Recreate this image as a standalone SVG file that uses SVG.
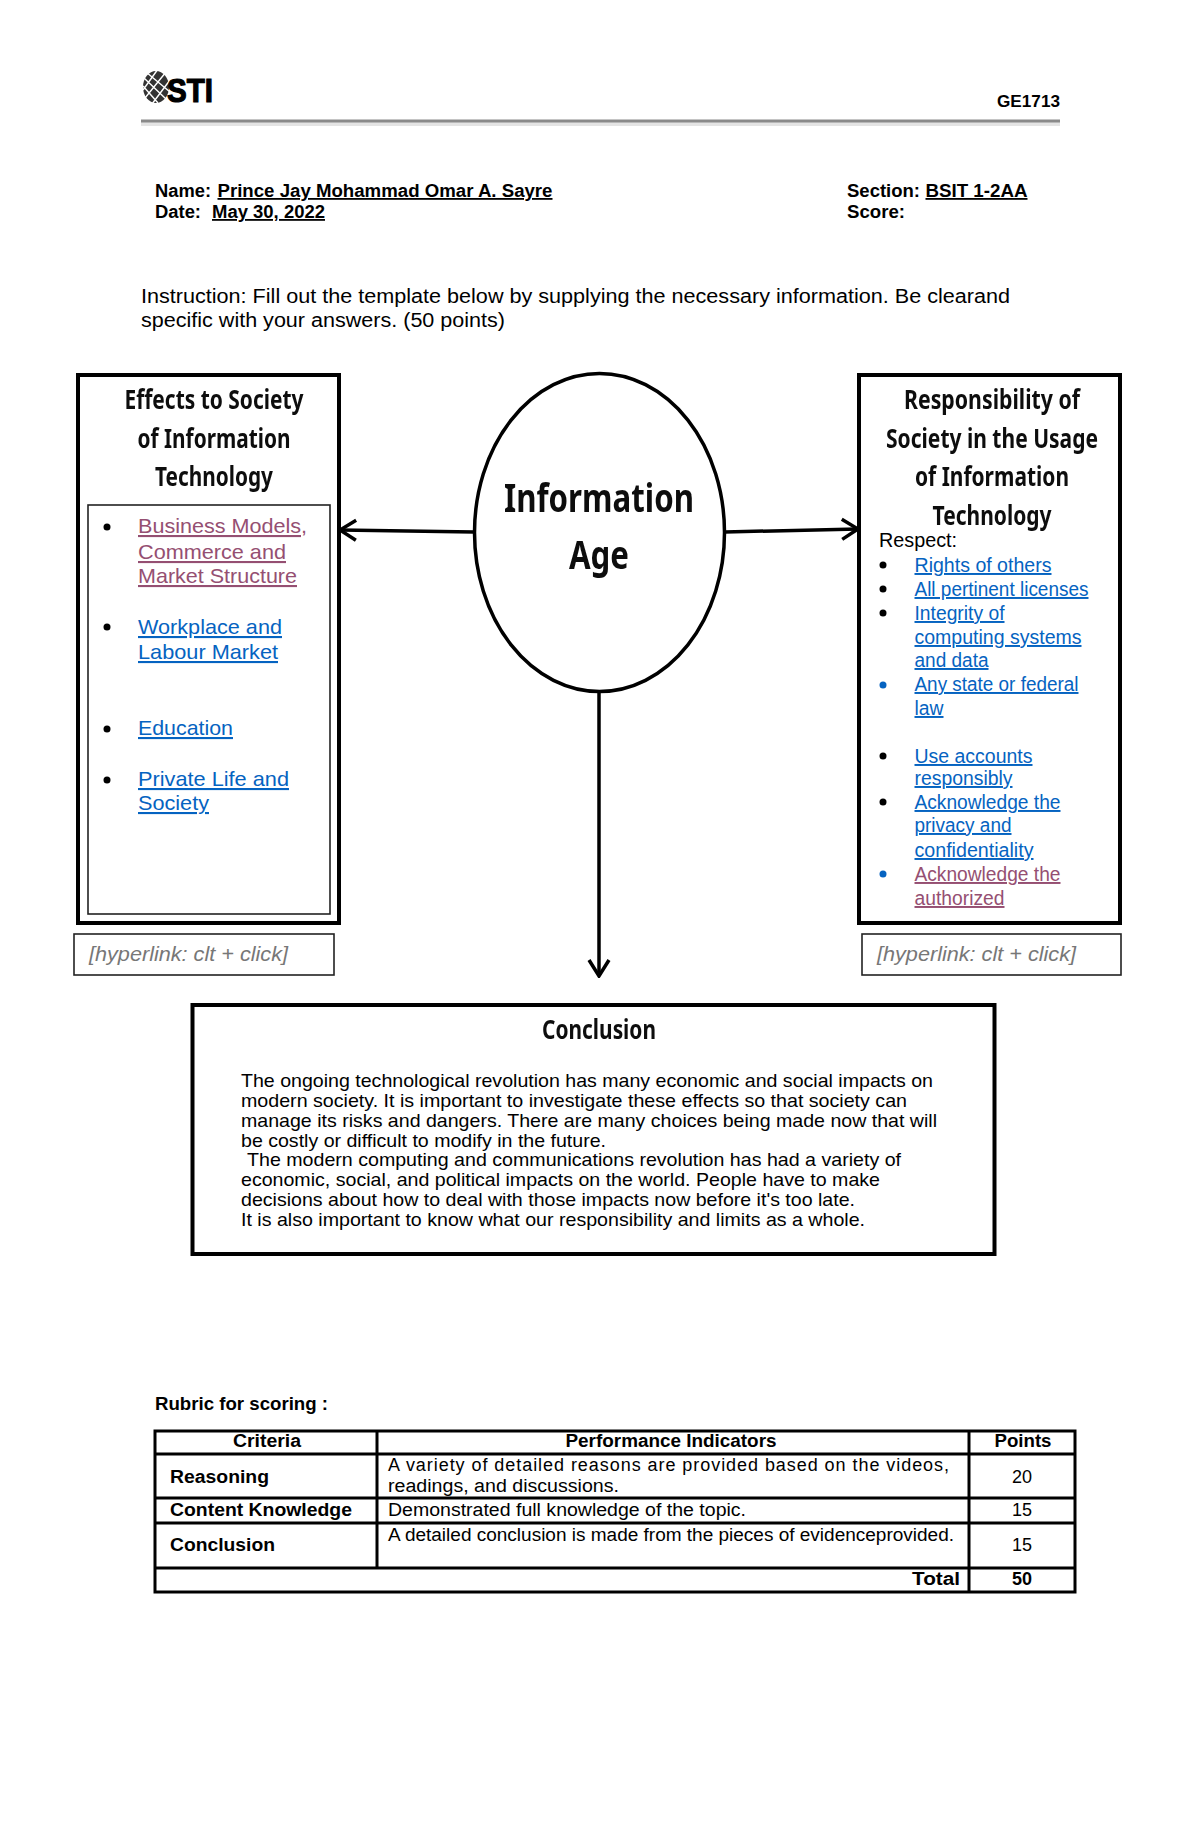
<svg xmlns="http://www.w3.org/2000/svg" width="1200" height="1835" viewBox="0 0 1200 1835">
<style>
text{font-family:"Liberation Sans",Arial,sans-serif;fill:#000}
.b{font-weight:700}
.t{font-size:20px}
.l{font-size:21px;fill:#0563c1;text-decoration:underline}
.r{font-size:19.5px;fill:#0563c1;text-decoration:underline}
.v{fill:#954f72}
.c{font-size:18.5px}
.h{font-family:"Noto Sans",sans-serif;font-weight:700;font-size:26px;text-anchor:middle;fill:#111;filter:url(#soft)}
.k{font-size:18px}
.m{text-anchor:middle}
.i{font-size:20px;font-style:italic;fill:#777}
.box{fill:#fff;stroke:#000;stroke-width:4}
.thin{fill:#fff;stroke:#222;stroke-width:1.6}
.link{fill:none;stroke:#000;stroke-width:3.5}
.tb{stroke:#000;stroke-width:3;fill:none}
.dk{fill:#000}.bl{fill:#0563c1}
</style>
<defs>
<filter id="soft" x="-10%" y="-20%" width="120%" height="140%"><feGaussianBlur stdDeviation="0.45"/></filter>
<marker id="open" viewBox="0 0 20 24" refX="18" refY="12" markerWidth="20" markerHeight="24" markerUnits="userSpaceOnUse" orient="auto"><path d="M2 2 L18 12 L2 22" fill="none" stroke="#000" stroke-width="3.5"/></marker>
</defs>
<rect width="1200" height="1835" fill="#fff"/>

<g id="header">
<g id="logo" fill="none" stroke="#222" stroke-width="2.4">
<ellipse cx="156" cy="87" rx="13" ry="16" fill="#333" stroke="none"/>
<path stroke="#fff" stroke-width="1.4" d="M144 78 L166 99 M146 72 L170 92 M143 86 L158 103 M166 72 L145 98 M170 80 L152 104 M158 69 L143 90"/>
<text x="167" y="102" class="b" font-size="33" textLength="46" lengthAdjust="spacingAndGlyphs" stroke="#000" stroke-width="1.2" fill="#000">STI</text>
</g>
<text x="997" y="107" class="b" font-size="16.5" textLength="63" lengthAdjust="spacingAndGlyphs">GE1713</text>
<rect x="141" y="122" width="919" height="4" fill="#e4e4e4"/>
<line x1="141" y1="121" x2="1060" y2="121" stroke="#8a8a8a" stroke-width="3"/>
<text x="155" y="197" class="b k" textLength="56" lengthAdjust="spacingAndGlyphs">Name:</text>
<text x="217.500" y="197" class="b k" text-decoration="underline" textLength="335" lengthAdjust="spacingAndGlyphs">Prince Jay Mohammad Omar A. Sayre</text>
<text x="155" y="218" class="b k" textLength="46" lengthAdjust="spacingAndGlyphs">Date:</text>
<text x="212" y="218" class="b k" text-decoration="underline" textLength="113" lengthAdjust="spacingAndGlyphs">May 30, 2022</text>
<text x="847" y="197" class="b k" textLength="73" lengthAdjust="spacingAndGlyphs">Section:</text>
<text x="925.500" y="197" class="b k" text-decoration="underline" textLength="102" lengthAdjust="spacingAndGlyphs">BSIT 1-2AA</text>
<text x="847" y="218" class="b k" textLength="58" lengthAdjust="spacingAndGlyphs">Score:</text>
<text x="141" y="303" class="t" textLength="869" lengthAdjust="spacingAndGlyphs">Instruction: Fill out the template below by supplying the necessary information. Be clearand</text>
<text x="141" y="327" class="t" textLength="364" lengthAdjust="spacingAndGlyphs">specific with your answers. (50 points)</text>
</g>

<g id="connectors">
<line class="link" x1="474" y1="532" x2="340" y2="530" marker-end="url(#open)"/>
<line class="link" x1="725" y1="532" x2="858" y2="529" marker-end="url(#open)"/>
<line class="link" x1="599" y1="692" x2="599" y2="976" marker-end="url(#open)"/>
</g>

<g id="node-info-age">
<ellipse cx="599.5" cy="532.500" rx="125" ry="159" fill="#fff" stroke="#000" stroke-width="3.5"/>
<text x="599" y="512" class="h" style="font-size:39px" textLength="190" lengthAdjust="spacingAndGlyphs">Information</text>
<text x="599" y="569" class="h" style="font-size:39px" textLength="60" lengthAdjust="spacingAndGlyphs">Age</text>
</g>

<g id="node-effects">
<rect class="box" x="78" y="375" width="261" height="548"/>
<text x="214" y="409" class="h" textLength="179" lengthAdjust="spacingAndGlyphs">Effects to Society</text>
<text x="214" y="448" class="h" textLength="153" lengthAdjust="spacingAndGlyphs">of Information</text>
<text x="214" y="486" class="h" textLength="118" lengthAdjust="spacingAndGlyphs">Technology</text>
<rect class="thin" x="88" y="505" width="242" height="409"/>
<circle class="dk" cx="107" cy="527" r="3.5"/><circle class="dk" cx="107" cy="627" r="3.5"/><circle class="dk" cx="107" cy="729" r="3.5"/><circle class="dk" cx="107" cy="780" r="3.5"/>
<text x="138" y="533" class="l v" textLength="169" lengthAdjust="spacingAndGlyphs">Business Models,</text>
<text x="138" y="559" class="l v" textLength="148" lengthAdjust="spacingAndGlyphs">Commerce and</text>
<text x="138" y="583" class="l v" textLength="159" lengthAdjust="spacingAndGlyphs">Market Structure</text>
<text x="138" y="634" class="l" textLength="144" lengthAdjust="spacingAndGlyphs">Workplace and</text>
<text x="138" y="659" class="l" textLength="140" lengthAdjust="spacingAndGlyphs">Labour Market</text>
<text x="138" y="735" class="l" textLength="95" lengthAdjust="spacingAndGlyphs">Education</text>
<text x="138" y="786" class="l" textLength="151" lengthAdjust="spacingAndGlyphs">Private Life and</text>
<text x="138" y="810" class="l" textLength="71" lengthAdjust="spacingAndGlyphs">Society</text>
</g>

<g id="note-left">
<rect class="thin" x="74" y="934" width="260" height="41"/>
<text x="89" y="961" class="i" textLength="199" lengthAdjust="spacingAndGlyphs">[hyperlink: clt + click]</text>
</g>

<g id="node-responsibility">
<rect class="box" x="859" y="375" width="261" height="548"/>
<text x="992" y="409" class="h" textLength="176" lengthAdjust="spacingAndGlyphs">Responsibility of</text>
<text x="992" y="448" class="h" textLength="212" lengthAdjust="spacingAndGlyphs">Society in the Usage</text>
<text x="992" y="486" class="h" textLength="154" lengthAdjust="spacingAndGlyphs">of Information</text>
<text x="992" y="525" class="h" textLength="119" lengthAdjust="spacingAndGlyphs">Technology</text>
<text x="879" y="547" font-size="19.5" textLength="78" lengthAdjust="spacingAndGlyphs">Respect:</text>
<circle class="dk" cx="883" cy="565" r="3.5"/><circle class="dk" cx="883" cy="589" r="3.5"/><circle class="dk" cx="883" cy="613" r="3.5"/><circle class="bl" cx="883" cy="685" r="3.5"/><circle class="dk" cx="883" cy="756" r="3.5"/><circle class="dk" cx="883" cy="802" r="3.5"/><circle class="bl" cx="883" cy="874" r="3.5"/>
<text x="914.500" y="572" class="r" textLength="137" lengthAdjust="spacingAndGlyphs">Rights of others</text>
<text x="914.500" y="596" class="r" textLength="174" lengthAdjust="spacingAndGlyphs">All pertinent licenses</text>
<text x="914.500" y="620" class="r" textLength="90" lengthAdjust="spacingAndGlyphs">Integrity of</text>
<text x="914.500" y="644" class="r" textLength="167" lengthAdjust="spacingAndGlyphs">computing systems</text>
<text x="914.500" y="667" class="r" textLength="74" lengthAdjust="spacingAndGlyphs">and data</text>
<text x="914.500" y="691" class="r" textLength="164" lengthAdjust="spacingAndGlyphs">Any state or federal</text>
<text x="914.500" y="715" class="r" textLength="29" lengthAdjust="spacingAndGlyphs">law</text>
<text x="914.500" y="763" class="r" textLength="118" lengthAdjust="spacingAndGlyphs">Use accounts</text>
<text x="914.500" y="785" class="r" textLength="98" lengthAdjust="spacingAndGlyphs">responsibly</text>
<text x="914.500" y="809" class="r" textLength="146" lengthAdjust="spacingAndGlyphs">Acknowledge the</text>
<text x="914.500" y="832" class="r" textLength="97" lengthAdjust="spacingAndGlyphs">privacy and</text>
<text x="914.500" y="857" class="r" textLength="119" lengthAdjust="spacingAndGlyphs">confidentiality</text>
<text x="914.500" y="881" class="r v" textLength="146" lengthAdjust="spacingAndGlyphs">Acknowledge the</text>
<text x="914.500" y="905" class="r v" textLength="90" lengthAdjust="spacingAndGlyphs">authorized</text>
</g>

<g id="note-right">
<rect class="thin" x="862" y="934" width="259" height="41"/>
<text x="877" y="961" class="i" textLength="199" lengthAdjust="spacingAndGlyphs">[hyperlink: clt + click]</text>
</g>

<g id="node-conclusion">
<rect class="box" x="192.500" y="1005" width="802" height="249"/>
<text x="599" y="1039" class="h" textLength="114" lengthAdjust="spacingAndGlyphs">Conclusion</text>
<text x="241" y="1087" class="c" textLength="692" lengthAdjust="spacingAndGlyphs">The ongoing technological revolution has many economic and social impacts on</text>
<text x="241" y="1107" class="c" textLength="666" lengthAdjust="spacingAndGlyphs">modern society. It is important to investigate these effects so that society can</text>
<text x="241" y="1127" class="c" textLength="696" lengthAdjust="spacingAndGlyphs">manage its risks and dangers. There are many choices being made now that will</text>
<text x="241" y="1147" class="c" textLength="365" lengthAdjust="spacingAndGlyphs">be costly or difficult to modify in the future.</text>
<text x="247" y="1166" class="c" textLength="654" lengthAdjust="spacingAndGlyphs">The modern computing and communications revolution has had a variety of</text>
<text x="241" y="1186" class="c" textLength="639" lengthAdjust="spacingAndGlyphs">economic, social, and political impacts on the world. People have to make</text>
<text x="241" y="1206" class="c" textLength="614" lengthAdjust="spacingAndGlyphs">decisions about how to deal with those impacts now before it's too late.</text>
<text x="241" y="1226" class="c" textLength="624" lengthAdjust="spacingAndGlyphs">It is also important to know what our responsibility and limits as a whole.</text>
</g>

<g id="rubric">
<text x="155" y="1410" class="b k" textLength="173" lengthAdjust="spacingAndGlyphs">Rubric for scoring :</text>
<rect class="tb" x="155" y="1431" width="920" height="161"/>
<path class="tb" d="M155 1454 H1075 M155 1498 H1075 M155 1523 H1075 M155 1568 H1075 M377 1431 V1568 M969 1431 V1592"/>
<g class="b k">
<text x="267" y="1447" class="m" textLength="68" lengthAdjust="spacingAndGlyphs">Criteria</text>
<text x="671" y="1447" class="m" textLength="211" lengthAdjust="spacingAndGlyphs">Performance Indicators</text>
<text x="1023" y="1447" class="m" textLength="57" lengthAdjust="spacingAndGlyphs">Points</text>
<text x="170" y="1483" textLength="99" lengthAdjust="spacingAndGlyphs">Reasoning</text>
<text x="170" y="1516" textLength="182" lengthAdjust="spacingAndGlyphs">Content Knowledge</text>
<text x="170" y="1551" textLength="105" lengthAdjust="spacingAndGlyphs">Conclusion</text>
<text x="912" y="1585" textLength="48" lengthAdjust="spacingAndGlyphs">Total</text>
<text x="1022" y="1585" class="m">50</text>
</g>
<g class="k">
<text x="388" y="1471" textLength="561" lengthAdjust="spacing">A variety of detailed reasons are provided  based on the videos,</text>
<text x="388" y="1492" textLength="231" lengthAdjust="spacingAndGlyphs">readings, and discussions.</text>
<text x="388" y="1516" textLength="358" lengthAdjust="spacingAndGlyphs">Demonstrated full knowledge of the topic.</text>
<text x="388" y="1541" textLength="566" lengthAdjust="spacingAndGlyphs">A detailed conclusion is made from the pieces of evidenceprovided.</text>
<text x="1022" y="1483" class="m">20</text>
<text x="1022" y="1516" class="m">15</text>
<text x="1022" y="1551" class="m">15</text>
</g>
</g>
</svg>
